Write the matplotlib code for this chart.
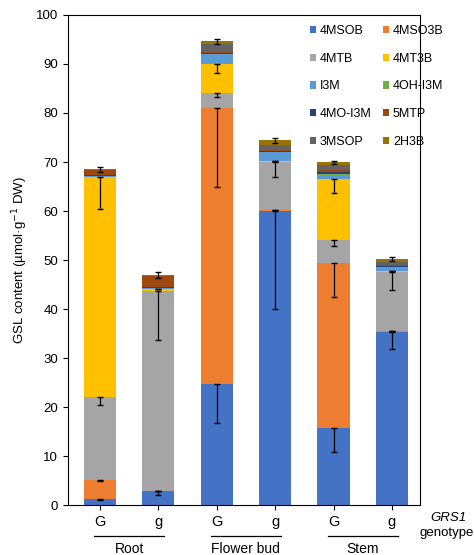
import matplotlib
matplotlib.use("Agg")
import matplotlib.pyplot as plt
import numpy as np

labels = ["G", "g", "G", "g", "G", "g"]
groups = ["Root", "Flower bud", "Stem"]
compounds = ["4MSOB", "4MSO3B", "4MTB", "4MT3B", "I3M", "4OH-I3M", "4MO-I3M", "5MTP", "3MSOP", "2H3B"]
colors = ["#4472C4", "#ED7D31", "#A5A5A5", "#FFC000", "#5B9BD5", "#70AD47", "#264478", "#9E480E", "#636363", "#997300"]

# values per compound across bars: Root G, Root g, FB G, FB g, Stem G, Stem g
v_4MSOB  = [1.2, 2.9, 24.8, 60.0, 15.8, 35.3]
v_4MSO3B = [4.0, 0.0, 56.2, 0.3, 33.6, 0.3]
v_4MTB   = [16.8, 40.8, 3.0, 9.7, 4.6, 12.0]
v_4MT3B  = [45.0, 0.4, 6.0, 0.3, 12.6, 0.1]
v_I3M    = [0.1, 0.1, 2.0, 1.7, 0.8, 0.8]
v_4OHI3M = [0.1, 0.1, 0.1, 0.1, 0.2, 0.1]
v_4MOI3M = [0.1, 0.1, 0.2, 0.2, 0.3, 0.2]
v_5MTP   = [1.0, 2.3, 0.2, 0.1, 0.4, 0.1]
v_3MSOP  = [0.1, 0.1, 1.5, 1.0, 1.0, 0.6]
v_2H3B   = [0.1, 0.1, 0.6, 1.0, 0.6, 0.7]
values = [v_4MSOB, v_4MSO3B, v_4MTB, v_4MT3B, v_I3M, v_4OHI3M, v_4MOI3M, v_5MTP, v_3MSOP, v_2H3B]

e_4MSOB  = [0.2, 0.8, 8.0, 20.0, 5.0, 3.5]
e_4MSO3B = [0.3, 0.0, 16.0, 0.0, 7.0, 0.0]
e_4MTB   = [1.5, 10.0, 0.7, 3.0, 1.2, 3.8]
e_4MT3B  = [6.5, 0.0, 1.8, 0.0, 3.0, 0.0]
e_top    = [0.5, 0.6, 0.6, 0.5, 0.4, 0.5]
errs = [e_4MSOB, e_4MSO3B, e_4MTB, e_4MT3B]

plt.rcParams['font.family'] = ['Liberation Sans', 'DejaVu Sans']
fig = plt.figure(figsize=(4.74, 5.55), dpi=100)
ax = fig.add_axes([0.143, 0.09, 0.743, 0.883])
x = np.arange(6)
bottom = np.zeros(6)
tops = []
handles = []
for vals, c, name in zip(values, colors, compounds):
    h = ax.bar(x, vals, 0.55, bottom=bottom, color=c, label=name, zorder=2)
    handles.append(h)
    bottom = bottom + np.array(vals)
    tops.append(bottom.copy())
for i, e in enumerate(errs):
    e = np.array(e)
    ax.errorbar(x, tops[i], yerr=[e, np.zeros(6)], fmt='none', ecolor='black', elinewidth=0.9, capsize=2.5, zorder=3)
ax.errorbar(x, tops[-1], yerr=e_top, fmt='none', ecolor='black', elinewidth=0.9, capsize=2.5, zorder=3)

ax.set_xlim(-0.55, 5.48)
ax.set_ylim(0, 100)
ax.set_yticks(range(0, 101, 10))
ax.set_xticks(x)
ax.set_xticklabels(labels, fontsize=10.5)
ax.tick_params(axis='y', labelsize=9.5)
ax.set_ylabel("GSL content (µmol·g$^{-1}$ DW)", fontsize=9.5)

for gi, g in enumerate(groups):
    x0, x1 = 2 * gi - 0.1, 2 * gi + 1.1
    ax.plot([x0, x1], [-6.3, -6.3], color='black', lw=0.9, clip_on=False)
    ax.text(2 * gi + 0.5, -7.6, g, ha='center', va='top', fontsize=10)
fig.text(0.985, 0.055, "GRS1", ha='right', va='bottom', fontsize=9.5, style='italic')
fig.text(1.0, 0.05, "genotype", ha='right', va='top', fontsize=9.5)

order = [0, 2, 4, 6, 8, 1, 3, 5, 7, 9]
fig.legend([handles[i] for i in order], [compounds[i] for i in order],
           loc='upper left', bbox_to_anchor=(0.63, 0.975), ncol=2, frameon=False, fontsize=9,
           handlelength=0.5, handleheight=0.5, handletextpad=0.3, labelspacing=1.25, columnspacing=0.9)
fig.savefig("out.png", dpi=100)
